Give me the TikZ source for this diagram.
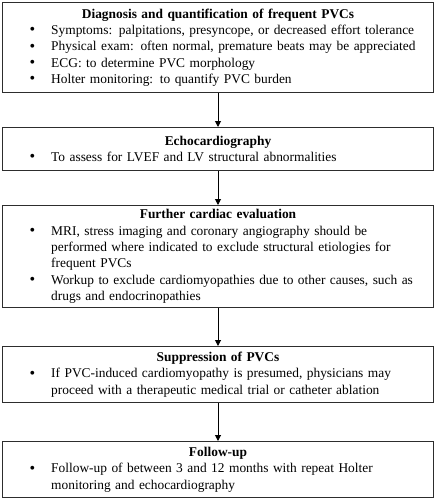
\documentclass[tikz,border=0pt]{standalone}
\usepackage{fontspec}
\setmainfont{Liberation Serif}
\usetikzlibrary{arrows.meta,positioning}
\definecolor{framegray}{RGB}{45,45,45}
\newcommand{\pvcfont}{\fontsize{13.4}{16.3}\selectfont}
\newcommand{\stagehead}[1]{{\centering\bfseries #1\par}}
\newcommand{\stageitem}{\par\leftskip=24pt\hangindent=21.5pt\hangafter=1\noindent\makebox[21.5pt][l]{\raisebox{-0.4pt}{\fontsize{16}{16}\selectfont\textbullet}}}
\newcommand{\stageend}{\par\vspace{-4pt}}

\begin{document}
\begin{tikzpicture}[
    stage/.style={draw=framegray, line width=1.4pt, minimum width=430.6pt,
      text width=424.6pt, inner xsep=3pt, inner ysep=0pt, align=left, font=\pvcfont},
    flow/.style={draw=black, line width=1pt, -{Triangle[length=6pt,width=6pt]}}]
  \useasboundingbox (0,0) rectangle (436pt,-500pt);
  % the five stages, top to bottom
  \node[stage, minimum height=89.6pt, anchor=north] (diag) at (218pt,-2pt) {%
    \stagehead{Diagnosis and quantification of frequent PVCs}
    \stageitem Symptoms: palpitations, presyncope, or decreased effort tolerance
    \stageitem Physical exam: often normal, premature beats may be appreciated
    \stageitem ECG: to determine PVC morphology
    \stageitem Holter monitoring: to quantify PVC burden\stageend};
  \node[stage, minimum height=42.6pt, below=34pt of diag] (echo) {%
    \stagehead{Echocardiography}
    \stageitem To assess for LVEF and LV structural abnormalities\stageend};
  \node[stage, minimum height=101.6pt, below=34pt of echo] (eval) {%
    \stagehead{Further cardiac evaluation}
    \stageitem MRI, stress imaging and coronary angiography should be\newline
      performed where indicated to exclude structural etiologies for\newline
      frequent PVCs
    \stageitem Workup to exclude cardiomyopathies due to other causes, such as\newline
      drugs and endocrinopathies\stageend};
  \node[stage, minimum height=55.6pt, below=38pt of eval] (supp) {%
    \stagehead{Suppression of PVCs}
    \stageitem If PVC-induced cardiomyopathy is presumed, physicians may\newline
      proceed with a therapeutic medical trial or catheter ablation\stageend};
  \node[stage, minimum height=55.6pt, below=38pt of supp] (follow) {%
    \stagehead{Follow-up}
    \stageitem Follow-up of between 3 and 12 months with repeat Holter\newline
      monitoring and echocardiography\stageend};
  % arrows
  \draw[flow] (diag) -- (echo);
  \draw[flow] (echo) -- (eval);
  \draw[flow] (eval) -- (supp);
  \draw[flow] (supp) -- (follow);
\end{tikzpicture}
\end{document}
